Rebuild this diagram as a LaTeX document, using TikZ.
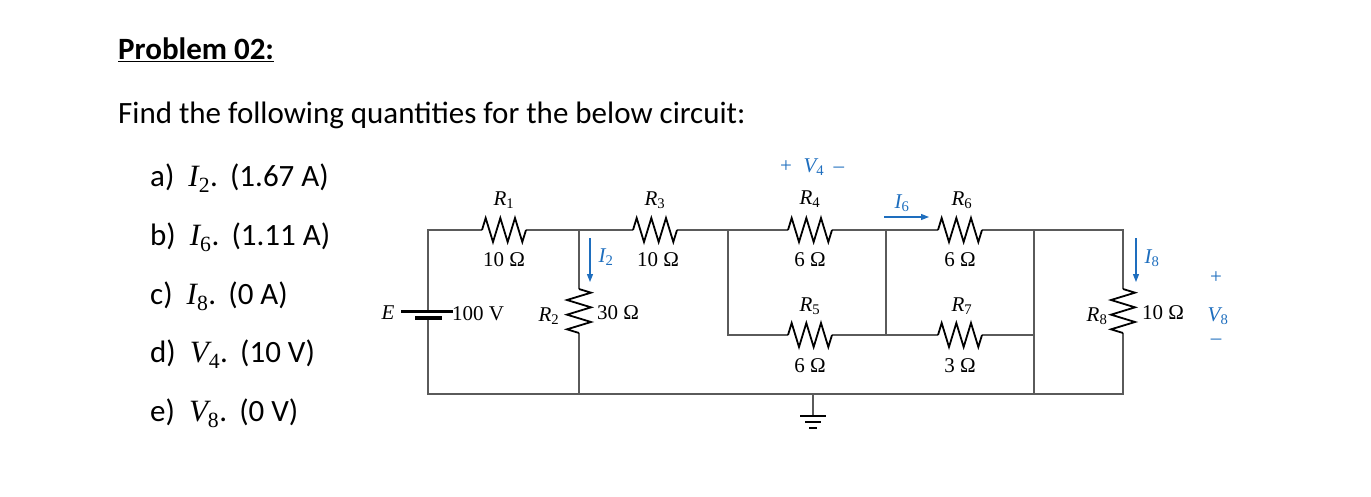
\documentclass[tikz,border=0pt]{standalone}
\usepackage{fontspec}
\setmainfont{Carlito}
\newfontfamily\ser{Liberation Serif}
\usetikzlibrary{arrows.meta}
\definecolor{cblue}{RGB}{30,110,190}
\definecolor{wire}{RGB}{90,90,90}
\newcommand{\vr}[2]{{\ser\itshape #1}\textsubscript{\ser #2}}
\begin{document}
\begin{tikzpicture}[x=1pt,y=-1pt,
  w/.style={draw=wire,line width=1.3pt},
  hres/.pic={\draw[black,line width=1.8pt,line join=miter] (0,0) -- ++(3.67,-12) -- ++(7.33,24) -- ++(7.33,-24) -- ++(7.33,24) -- ++(7.33,-24) -- ++(7.33,24) -- ++(3.67,-12);},
  vres/.pic={\draw[black,line width=1.8pt,line join=miter] (0,0) -- ++(12,3.67) -- ++(-24,7.33) -- ++(24,7.33) -- ++(-24,7.33) -- ++(24,7.33) -- ++(-24,7.33) -- ++(12,3.67);},
  lab/.style={font=\ser\fontsize{21}{23}\selectfont,inner sep=0pt},
  blab/.style={lab,text=cblue},
  txt/.style={font=\fontsize{31}{34}\selectfont,anchor=west,inner sep=0pt},
  iarr/.style={draw=cblue,line width=1.2pt,-{Triangle[length=8pt,width=6pt]}}]
\useasboundingbox (0,0) rectangle (1371,496);
\node[txt,font=\bfseries\fontsize{31}{34}\selectfont] (title) at (118,50) {\underline{Problem 02:}};
\node[txt] (find) at (118,115) {Find the following quantities for the below circuit:};
\node[txt] (qa) at (150,178) {a)\ \ \vr{I}{2}.\ \,(1.67 A)};
\node[txt] (qb) at (150,237) {b)\ \ \vr{I}{6}.\ \,(1.11 A)};
\node[txt] (qc) at (150,296) {c)\ \ \vr{I}{8}.\ \,(0 A)};
\node[txt] (qd) at (150,354) {d)\ \ \vr{V}{4}.\ \,(10 V)};
\node[txt] (qe) at (150,413) {e)\ \ \vr{V}{8}.\ \,(0 V)};
% coordinates
\coordinate (tl) at (428,230); \coordinate (bl) at (428,394);
\coordinate (bt) at (428,311); \coordinate (bb) at (428,318);
\coordinate (r1a) at (482,230); \coordinate (r1b) at (526,230);
\coordinate (n1t) at (579,230); \coordinate (n1b) at (579,394);
\coordinate (r2a) at (579,289); \coordinate (r2b) at (579,333);
\coordinate (r3a) at (633,230); \coordinate (r3b) at (677,230);
\coordinate (n2t) at (728,230); \coordinate (n2m) at (728,335);
\coordinate (r4a) at (788,230); \coordinate (r4b) at (832,230);
\coordinate (r5a) at (788,335); \coordinate (r5b) at (832,335);
\coordinate (n3t) at (886,230); \coordinate (n3m) at (886,335);
\coordinate (r6a) at (938,230); \coordinate (r6b) at (982,230);
\coordinate (r7a) at (938,335); \coordinate (r7b) at (982,335);
\coordinate (n4t) at (1034,230); \coordinate (n4m) at (1034,335); \coordinate (n4b) at (1034,394);
\coordinate (tr) at (1123,230); \coordinate (br) at (1123,394);
\coordinate (r8a) at (1123,289); \coordinate (r8b) at (1123,333);
\coordinate (gnd) at (813,394); \coordinate (gnd2) at (813,416);
% wires
\draw[w] (bt) -- (tl) -- (r1a); \draw[w] (r1b) -- (n1t) -- (r3a);
\draw[w] (r3b) -- (n2t) -- (r4a); \draw[w] (r4b) -- (n3t) -- (r6a);
\draw[w] (r6b) -- (n4t) -- (tr) -- (r8a);
\draw[w] (r8b) -- (br) -- (bl) -- (bb);
\draw[w] (n1t) -- (r2a); \draw[w] (r2b) -- (n1b);
\draw[w] (n2t) -- (n2m) -- (r5a); \draw[w] (r5b) -- (n3m) -- (r7a);
\draw[w] (n3t) -- (n3m); \draw[w] (r7b) -- (n4m);
\draw[w] (n4t) -- (n4b);
\draw[w] (gnd) -- (gnd2);
\draw[line width=2.2pt] (800,416) -- (826,416);
\draw[line width=2.2pt] (805,422) -- (821,422);
\draw[line width=2.2pt] (809,428) -- (817,428);
% battery
\draw[line width=3pt] (401,311) -- (453,311);
\draw[line width=4pt] (415,318) -- (442,318);
% resistors
\pic at (r1a) {hres}; \pic at (r3a) {hres}; \pic at (r4a) {hres};
\pic at (r5a) {hres}; \pic at (r6a) {hres}; \pic at (r7a) {hres};
\pic at (r2a) {vres}; \pic at (r8a) {vres};
% labels
\node[lab] (E) at (388,313) {\itshape E};
\node[lab,anchor=west] (Ev) at (452,314) {100 V};
\node[lab] (R1) at (504,200) {\vr{R}{1}}; \node[lab] (R1v) at (504,260) {10 Ω};
\node[lab] (R2) at (549,316) {\vr{R}{2}}; \node[lab,anchor=west] (R2v) at (597,313) {30 Ω};
\node[lab] (R3) at (655,200) {\vr{R}{3}}; \node[lab] (R3v) at (658,260) {10 Ω};
\node[lab] (R4) at (810,199) {\vr{R}{4}}; \node[lab] (R4v) at (810,260) {6 Ω};
\node[lab] (R5) at (810,306) {\vr{R}{5}}; \node[lab] (R5v) at (810,366) {6 Ω};
\node[lab] (R6) at (962,200) {\vr{R}{6}}; \node[lab] (R6v) at (960,260) {6 Ω};
\node[lab] (R7) at (962,306) {\vr{R}{7}}; \node[lab] (R7v) at (960,366) {3 Ω};
\node[lab] (R8) at (1097,316) {\vr{R}{8}}; \node[lab,anchor=west] (R8v) at (1142,313) {10 Ω};
\node[blab] (V4) at (812,167) {+\;\;\vr{V}{4}\;\,–};
\node[blab] (I2) at (606,257) {\vr{I}{2}};
\node[blab] (I6) at (902,203) {\vr{I}{6}};
\node[blab] (I8) at (1152,258) {\vr{I}{8}};
\node[blab] (V8p) at (1216,278) {+};
\node[blab] (V8) at (1218,316) {\vr{V}{8}};
\node[blab] (V8m) at (1216,342) {–};
\coordinate (i2a) at (590,238); \coordinate (i2b) at (590,282);
\coordinate (i6a) at (884,217); \coordinate (i6b) at (929,217);
\coordinate (i8a) at (1136,238); \coordinate (i8b) at (1136,282);
\draw[iarr] (i2a) -- (i2b); \draw[iarr] (i6a) -- (i6b); \draw[iarr] (i8a) -- (i8b);
\end{tikzpicture}
\end{document}
